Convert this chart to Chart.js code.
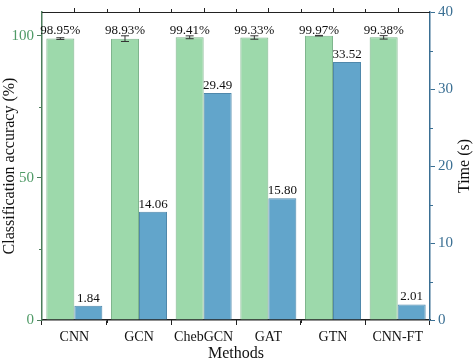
<!DOCTYPE html>
<html>
<head>
<meta charset="utf-8">
<script src="https://cdn.jsdelivr.net/npm/chart.js@4"></script>
<style>
  html, body { margin: 0; padding: 0; background: #fff; }
  #wrap { width: 474px; height: 361px; }
</style>
</head>
<body>
<div id="wrap"><canvas id="chart" width="474" height="361"></canvas></div>
<script>
// accuracy (left axis) + training time (right axis)

const methods = ['CNN', 'GCN', 'ChebGCN', 'GAT', 'GTN', 'CNN-FT'];
const accuracy = [98.95, 98.93, 99.41, 99.33, 99.97, 99.38];
const accuracyErr = [0.3, 1.0, 0.5, 0.6, 0.1, 0.6];
const time = [1.84, 14.06, 29.49, 15.80, 33.52, 2.01];
const accTicks = [0, 50, 100];
const timeTicks = [0, 10, 20, 30, 40];

const serif = '"Liberation Serif", "Times New Roman", serif';
const green = '#9dd9ab';
const greenEdge = '#7fb58d';
const blue = '#62a5cb';
const blueEdge = '#4f88ab';
const greenText = '#4f9a66';
const greenAxis = '#4d7d5c';
const blueText = '#3a6f93';

const extras = {
    id: 'extras',
    afterDatasetsDraw(chart) {
        const c = chart.ctx;
        const area = chart.chartArea;
        const y = chart.scales.y, y1 = chart.scales.y1, x = chart.scales.x;

        // error bars on accuracy bars
        const m0 = chart.getDatasetMeta(0);
        c.save();
        c.strokeStyle = '#333';
        c.lineWidth = 1;
        m0.data.forEach((bar, i) => {
            const top = y.getPixelForValue(accuracy[i] + accuracyErr[i]);
            const bot = y.getPixelForValue(accuracy[i] - accuracyErr[i]);
            c.beginPath();
            c.moveTo(bar.x, top); c.lineTo(bar.x, bot);
            c.moveTo(bar.x - 4, top); c.lineTo(bar.x + 4, top);
            c.moveTo(bar.x - 4, bot); c.lineTo(bar.x + 4, bot);
            c.stroke();
        });

        // value labels
        c.fillStyle = '#111';
        c.font = '13px ' + serif;
        c.textAlign = 'center';
        c.textBaseline = 'bottom';
        m0.data.forEach((bar, i) => {
            c.fillText(accuracy[i].toFixed(2) + '%', bar.x, y.getPixelForValue(100) + 1);
        });
        const m1 = chart.getDatasetMeta(1);
        m1.data.forEach((bar, i) => {
            c.fillText(time[i].toFixed(2), bar.x, bar.y - 1);
        });

        // frame: top line, ticks at top and category boundaries
        c.strokeStyle = '#222';
        c.beginPath();
        c.moveTo(area.left, area.top + 0.5); c.lineTo(area.right, area.top + 0.5);
        c.stroke();
        const step = (area.right - area.left) / methods.length;
        x.ticks.forEach((t, i) => {
            const px = Math.round(x.getPixelForTick(i)) + 0.5;
            c.beginPath();
            c.moveTo(px, area.top); c.lineTo(px, area.top - 4);
            c.stroke();
            if (i > 0) {
                const bx = Math.round(area.left + step * i) + 0.5;
                c.beginPath();
                c.moveTo(bx, area.bottom); c.lineTo(bx, area.bottom + 3);
                c.moveTo(bx, area.top); c.lineTo(bx, area.top - 3);
                c.stroke();
            }
        });
        c.strokeStyle = greenAxis;
        [25, 75].forEach(v => {
            const py = Math.round(y.getPixelForValue(v)) + 0.5;
            c.beginPath();
            c.moveTo(area.left, py); c.lineTo(area.left - 3, py);
            c.stroke();
        });
        c.strokeStyle = blueText;
        [5, 15, 25, 35].forEach(v => {
            const py = Math.round(y1.getPixelForValue(v)) + 0.5;
            c.beginPath();
            c.moveTo(area.right, py); c.lineTo(area.right + 3, py);
            c.stroke();
        });

        // right axis title, reads bottom to top
        c.translate(465, (area.top + area.bottom) / 2);
        c.rotate(-Math.PI / 2);
        c.fillStyle = '#111';
        c.font = '16px ' + serif;
        c.textAlign = 'center';
        c.textBaseline = 'middle';
        c.fillText('Time (s)', 0, 0);
        c.restore();
    }
};

new Chart(document.getElementById('chart'), {
    type: 'bar',
    data: {
        labels: methods,
        datasets: [
            {
                label: 'Accuracy',
                data: accuracy,
                yAxisID: 'y',
                backgroundColor: green,
                borderColor: greenEdge,
                borderWidth: 1,
                categoryPercentage: 0.866,
                barPercentage: 1.0
            },
            {
                label: 'Time',
                data: time,
                yAxisID: 'y1',
                backgroundColor: blue,
                borderColor: blueEdge,
                borderWidth: 1,
                categoryPercentage: 0.866,
                barPercentage: 1.0
            }
        ]
    },
    options: {
        responsive: false,
        animation: false,
        layout: { padding: { top: 7, left: 0, right: 0, bottom: 0 } },
        plugins: {
            legend: { display: false },
            tooltip: { enabled: false }
        },
        scales: {
            x: {
                grid: { display: true, drawOnChartArea: false, drawTicks: true, tickLength: 5, color: '#222' },
                border: { display: true, color: '#222', width: 1.5 },
                ticks: { color: '#111', font: { family: serif, size: 14 }, padding: 4, maxRotation: 0, minRotation: 0, autoSkip: false },
                title: { display: true, text: 'Methods', color: '#111', font: { family: serif, size: 16, lineHeight: 0.9 }, padding: 0 },
                afterFit(s) { s.height = 41; }
            },
            y: {
                position: 'left',
                min: 0,
                max: 108.3,
                afterBuildTicks(s) { s.ticks = accTicks.map(v => ({ value: v })); },
                grid: { display: true, drawOnChartArea: false, drawTicks: true, tickLength: 5, color: greenAxis },
                border: { display: true, color: greenAxis, width: 1.5 },
                ticks: { color: greenText, font: { family: serif, size: 15 }, padding: 3 },
                title: { display: true, text: 'Classification accuracy (%)', color: '#111', font: { family: serif, size: 16 }, padding: 0 },
                afterFit(s) { s.width = 42; }
            },
            y1: {
                position: 'right',
                min: 0,
                max: 40,
                afterBuildTicks(s) { s.ticks = timeTicks.map(v => ({ value: v })); },
                grid: { display: true, drawOnChartArea: false, drawTicks: true, tickLength: 5, color: blueText },
                border: { display: true, color: blueText, width: 1.5 },
                ticks: { color: blueText, font: { family: serif, size: 15 }, padding: 3 },
                title: { display: false },
                afterFit(s) { s.width = 44; }
            }
        }
    },
    plugins: [extras]
});
</script>
</body>
</html>
